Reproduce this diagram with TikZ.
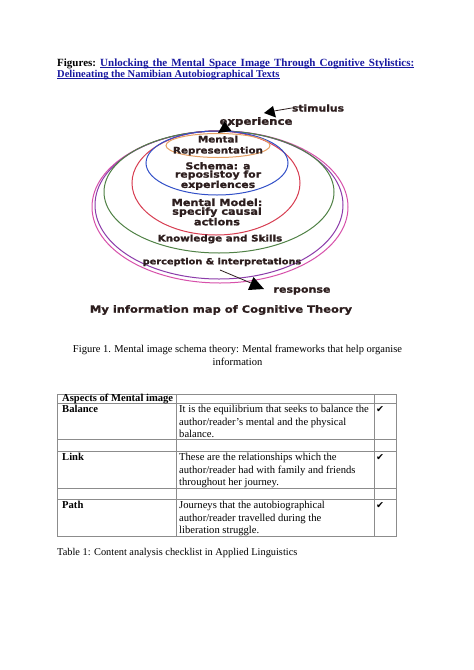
\documentclass[tikz,border=0pt]{standalone}
\usepackage{fontspec}
\setmainfont{Liberation Serif}
\newfontfamily\dfont[FakeStretch=1.15, BoldFeatures={FakeBold=1.2}]{DejaVu Sans}
\newfontfamily\symfont{DejaVu Sans}
\definecolor{linkblue}{RGB}{25,25,160}
\definecolor{dtext}{RGB}{45,30,30}
\definecolor{eorange}{RGB}{230,160,100}
\definecolor{eblue}{RGB}{50,80,200}
\definecolor{ered}{RGB}{215,60,80}
\definecolor{egreen}{RGB}{80,130,70}
\definecolor{epurple}{RGB}{140,60,170}
\definecolor{emagenta}{RGB}{215,80,170}
\definecolor{tline}{RGB}{140,140,140}
\newcommand{\myulw}[1]{\setbox0\hbox{#1}\rlap{\vrule height -1.3pt depth 2pt width \wd0}\box0}
\newcommand{\myulsp}{\leaders\hrule height -1.3pt depth 2pt\hskip 3pt plus 1fill\relax}
\newcommand{\myulspn}{\leaders\hrule height -1.3pt depth 2pt\hskip 2.6pt\relax}
\begin{document}
\begin{tikzpicture}[x=1pt,y=-1pt,
  dlab/.style={font=\dfont\bfseries\fontsize{9.5}{8.3}\selectfont, text=dtext, align=center, inner sep=0pt},
  ell/.style={line width=1pt},
  conn/.style={draw=dtext, line width=0.8pt},
  headfill/.style={fill=black},
  txt/.style={anchor=base west, inner sep=0pt, font=\fontsize{10.6}{12}\selectfont},
  capt/.style={inner sep=0pt, font=\fontsize{10.5}{13}\selectfont},
  chk/.style={anchor=base, inner sep=0pt, font=\symfont\fontsize{9.5}{10}\selectfont},
  tl/.style={draw=tline, line width=0.8pt}
]
\useasboundingbox[fill=white] (0,0) rectangle (474,670);

% header
\node[capt, anchor=base west, font=\fontsize{11}{13}\selectfont] (head1) at (57,66)
  {\hbox to 357pt{\bfseries Figures:\hskip 3pt plus 1fill\color{linkblue}\myulw{Unlocking}\myulsp\myulw{the}\myulsp\myulw{Mental}\myulsp\myulw{Space}\myulsp\myulw{Image}\myulsp\myulw{Through}\myulsp\myulw{Cognitive}\myulsp\myulw{Stylistics:}}};
\node[capt, anchor=base west] (head2) at (57,77)
  {\bfseries\color{linkblue}\myulw{Delineating}\myulspn\myulw{the}\myulspn\myulw{Namibian}\myulspn\myulw{Autobiographical}\myulspn\myulw{Texts}};

% ellipses
\draw[ell, emagenta] (220,207) ellipse [x radius=128, y radius=76];
\draw[ell, epurple] (219,205) ellipse [x radius=124, y radius=74];
\draw[ell, egreen] (219,192) ellipse [x radius=115, y radius=61];
\draw[ell, ered] (216,183) ellipse [x radius=84, y radius=52];
\draw[ell, eblue] (217,163) ellipse [x radius=71, y radius=32];
\draw[ell, eorange] (218,145.5) ellipse [x radius=52, y radius=12];

% diagram labels
\node[dlab, font=\dfont\bfseries\fontsize{9.4}{10}\selectfont] (stim) at (318,108) {stimulus};
\node[dlab, font=\dfont\bfseries\fontsize{10.2}{11}\selectfont] (exp) at (256,122) {experience};
\node[dlab, font=\dfont\bfseries\fontsize{9}{11}\selectfont] (mrep) at (218,145.5) {Mental\\Representation};
\node[dlab] (schema) at (218,176) {Schema: a\\reposistoy for\\experiences};
\node[dlab, font=\dfont\bfseries\fontsize{9.8}{8.8}\selectfont] (mmodel) at (217,212) {Mental Model:\\specify causal\\actions};
\node[dlab, font=\dfont\bfseries\fontsize{9}{9}\selectfont] (know) at (220,239) {Knowledge and Skills};
\node[dlab, font=\dfont\bfseries\fontsize{8.5}{9}\selectfont] (perc) at (222,262) {perception \& interpretations};
\node[dlab, font=\dfont\bfseries\fontsize{9.6}{10}\selectfont] (resp) at (302,291) {response};
\node[dlab, font=\dfont\bfseries\fontsize{10}{12}\selectfont] (title) at (221,310) {My information map of Cognitive Theory};

% arrows
\coordinate (stimtip) at (268,112);
\coordinate (exptail) at (231,124);
\coordinate (exptip) at (222,130);
\coordinate (resptail) at (220,270);
\coordinate (resptip) at (258,286);
\draw[conn] (stim.west) -- (stimtip);
\draw[conn] (exptail) -- (exptip);
\draw[conn] (resptail) -- (resptip);
% arrow heads
\fill[headfill] (264,113) -- (273,106) -- (276,117.5) -- cycle;
\fill[headfill] (218,133) -- (224.5,121.5) -- (231.5,131) -- cycle;
\fill[headfill] (264,289) -- (253.5,277) -- (248,290) -- cycle;

% figure caption
\node[capt, anchor=base] (cap1) at (237.5,352) {Figure 1. Mental image schema theory: Mental frameworks that help organise};
\node[capt, anchor=base] (cap2) at (237.5,365) {information};

% table
\draw[tl] (57,394) rectangle (396,536);
\foreach \yy in {403,439,451,488,499} \draw[tl] (57,\yy) -- (396,\yy);
\draw[tl] (176,394) -- (176,536);
\draw[tl] (374,394) -- (374,536);

\node[txt] (h1) at (62,401.5) {\textbf{Aspects of Mental image}};
\node[txt] (r1) at (62,412.5) {\textbf{Balance}};
\node[txt] (r1a) at (179,412.5) {It is the equilibrium that seeks to balance the};
\node[txt] (r1b) at (179,425) {author/reader's mental and the physical};
\node[txt] (r1c) at (179,437.5) {balance.};
\node[chk] (c1) at (380,412.5) {✔};

\node[txt] (r2) at (62,460.5) {\textbf{Link}};
\node[txt] (r2a) at (179,460.5) {These are the relationships which the};
\node[txt] (r2b) at (179,473) {author/reader had with family and friends};
\node[txt] (r2c) at (179,485.5) {throughout her journey.};
\node[chk] (c2) at (380,460.5) {✔};

\node[txt] (r3) at (62,508.5) {\textbf{Path}};
\node[txt] (r3a) at (179,508.5) {Journeys that the autobiographical};
\node[txt] (r3b) at (179,521) {author/reader travelled during the};
\node[txt] (r3c) at (179,533.5) {liberation struggle.};
\node[chk] (c3) at (380,508.5) {✔};

\node[capt, anchor=base west, font=\fontsize{10.35}{12}\selectfont] (tcap) at (57,555) {Table 1: Content analysis checklist in Applied Linguistics};
\end{tikzpicture}
\end{document}
